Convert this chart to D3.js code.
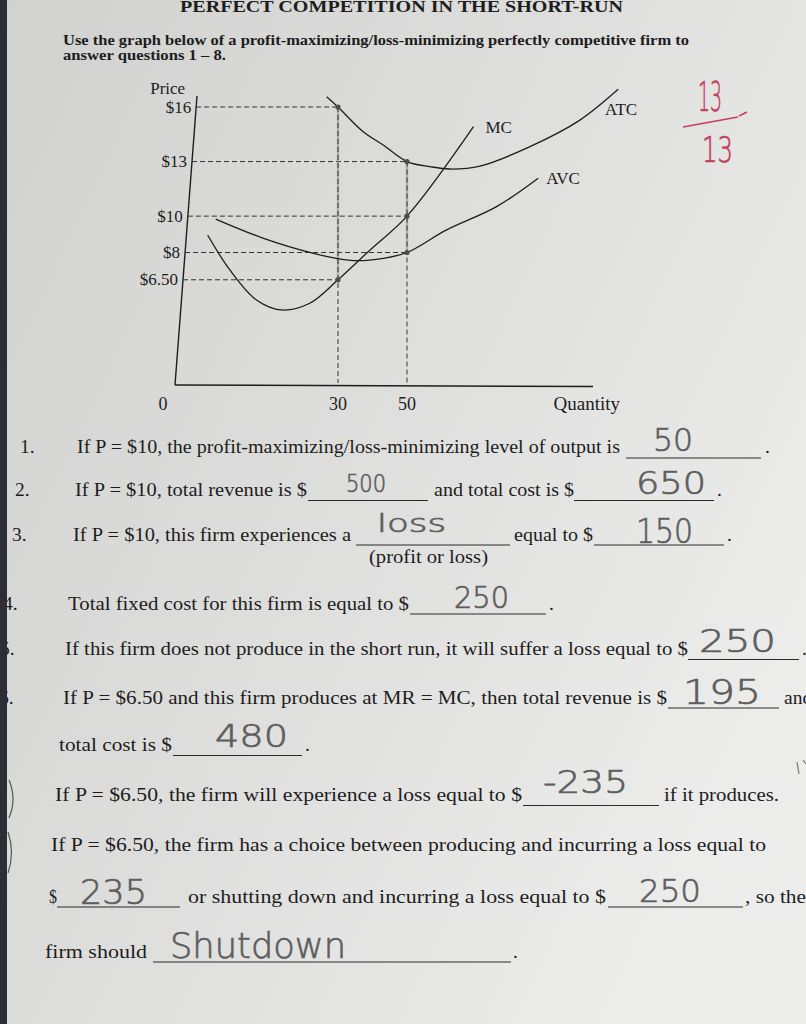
<!DOCTYPE html>
<html>
<head>
<meta charset="utf-8">
<script src="https://cdn.jsdelivr.net/npm/d3@7"></script>
<style>
  body { margin: 0; overflow: hidden; background: #e0e0de; }
  svg { display: block; }
</style>
</head>
<body>
<svg width="806" height="1024"></svg>
<script>
// vertical axis ticks
const priceTicks = [16, 13, 10, 8, 6.5];
const priceLabels = ["$16", "$13", "$10", "$8", "$6.50"];
// horizontal axis ticks
const qtyTicks = [0, 30, 50];
const qtyLabels = ["0", "30", "50"];

// cost curves, (quantity, price)
const mcQ = [6, 10.1, 15, 19.6, 24.8, 30, 39.3, 50, 69.3];
const mcP = [8.96, 7.04, 5.39, 4.84, 5.21, 6.5, 8.14, 10, 14.92];
const atcQ = [27.9, 30, 37.3, 43.1, 50, 56.7, 62.5, 71.2, 85.7, 100.2, 111.3];
const atcP = [16.56, 16, 14.64, 13.91, 13, 12.72, 12.59, 12.75, 13.82, 15.28, 16.97];
const avcQ = [7.5, 16.3, 25.5, 29.7, 35.4, 43.1, 50, 61.5, 76, 88.1];
const avcP = [9.84, 8.78, 7.95, 7.68, 7.55, 7.68, 8, 9.24, 10.52, 12.08];

// dashed guides: price level and the quantity where it meets a curve
const guideP = [16, 13, 10, 8, 6.5];
const guideQ = [30, 50, 50, 50, 30];

var svg = d3.select("svg");

// paper background
var defs = svg.append("defs");
var grad = defs.append("linearGradient").attr("id", "paper")
    .attr("x1", 0).attr("y1", 0).attr("x2", 1).attr("y2", 0.6);
grad.append("stop").attr("offset", 0).attr("stop-color", "#d1d1cf");
grad.append("stop").attr("offset", 0.45).attr("stop-color", "#dcdcda");
grad.append("stop").attr("offset", 1).attr("stop-color", "#ececeb");
svg.append("rect").attr("width", 806).attr("height", 1024).attr("fill", "url(#paper)");

var ink = "#1d1d1d";
var serif = "'Liberation Serif', 'Times New Roman', serif";

// ---------- graph ----------
// the sketch is not to scale, so the quantity axis is piecewise
var x = d3.scaleLinear().domain([0, 30, 50, 104]).range([175, 338, 407, 593]);
var y = d3.scaleLinear().domain([0, 16]).range([398, 107]);
var baseY = 385;
var axisTop = 96;
// the vertical axis leans a little in the photo
var axisX = py => 175 + (baseY - py) * 22 / 289;

var g = svg.append("g");

// axes
g.append("line")
    .attr("x1", axisX(axisTop)).attr("y1", axisTop)
    .attr("x2", axisX(baseY)).attr("y2", baseY)
    .attr("stroke", ink).attr("stroke-width", 1.4);
g.append("line")
    .attr("x1", x(0)).attr("y1", baseY)
    .attr("x2", x(104)).attr("y2", baseY + 1.5)
    .attr("stroke", ink).attr("stroke-width", 1.4);

// horizontal dashed guides
var guides = guideP.map((p, i) => ({p: p, q: guideQ[i]}));
g.append("g").selectAll("line")
    .data(guides)
    .enter()
    .append("line")
    .attr("x1", d => axisX(y(d.p)))
    .attr("x2", d => x(d.q))
    .attr("y1", d => y(d.p))
    .attr("y2", d => y(d.p))
    .attr("stroke", "#333")
    .attr("stroke-width", 1)
    .attr("stroke-dasharray", "5,3");

// vertical dashed guides from the highest guide down to the axis
var vGuides = Array.from(d3.group(guides, d => d.q), ([q, v]) => ({
    q: q,
    top: d3.max(v, d => d.p),
    bottom: d3.min(v, d => d.p)
}));

// pencil retracing over the vertical guides
g.append("g").selectAll("line")
    .data(vGuides)
    .enter()
    .append("line")
    .attr("x1", d => x(d.q)).attr("x2", d => x(d.q))
    .attr("y1", d => y(d.top)).attr("y2", d => y(d.bottom))
    .attr("stroke", "#8a8a8a").attr("stroke-width", 2.4).attr("opacity", 0.55);

g.append("g").selectAll("line")
    .data(vGuides)
    .enter()
    .append("line")
    .attr("x1", d => x(d.q)).attr("x2", d => x(d.q))
    .attr("y1", d => y(d.top)).attr("y2", baseY - 2)
    .attr("stroke", "#333")
    .attr("stroke-width", 1)
    .attr("stroke-dasharray", "5,3");

// curves
var line = d3.line()
    .x(d => x(d[0]))
    .y(d => y(d[1]))
    .curve(d3.curveCatmullRom);

var curves = [
    {name: "MC", pts: d3.zip(mcQ, mcP), dx: 12, dy: 6, anchor: "start"},
    {name: "ATC", pts: d3.zip(atcQ, atcP), dx: 3, dy: 26, anchor: "middle"},
    {name: "AVC", pts: d3.zip(avcQ, avcP), dx: 8, dy: 6, anchor: "start"}
];

g.append("g").selectAll("path")
    .data(curves)
    .enter()
    .append("path")
    .attr("d", d => line(d.pts))
    .attr("fill", "none")
    .attr("stroke", ink)
    .attr("stroke-width", 1.3);

g.append("g").selectAll("text")
    .data(curves)
    .enter()
    .append("text")
    .attr("x", d => x(d.pts[d.pts.length - 1][0]) + d.dx)
    .attr("y", d => y(d.pts[d.pts.length - 1][1]) + d.dy)
    .attr("text-anchor", d => d.anchor)
    .attr("font-family", serif)
    .attr("font-size", 17)
    .attr("fill", ink)
    .text(d => d.name);

// pencil dots where the guides meet the curves
g.append("g").selectAll("circle")
    .data(guides)
    .enter()
    .append("circle")
    .attr("cx", d => x(d.q))
    .attr("cy", d => y(d.p))
    .attr("r", 2.6)
    .attr("fill", "#4d4d4d");

// price tick labels
g.append("g").selectAll("text")
    .data(priceTicks)
    .enter()
    .append("text")
    .attr("x", d => axisX(y(d)) - 5)
    .attr("y", d => y(d) + 5.5)
    .attr("text-anchor", "end")
    .attr("font-family", serif)
    .attr("font-size", 17)
    .attr("fill", ink)
    .text((d, i) => priceLabels[i]);

g.append("text")
    .attr("x", axisX(y(16)) - 11)
    .attr("y", y(16) - 13)
    .attr("text-anchor", "end")
    .attr("font-family", serif)
    .attr("font-size", 17)
    .attr("fill", ink)
    .text("Price");

// quantity tick labels
g.append("g").selectAll("text")
    .data(qtyTicks)
    .enter()
    .append("text")
    .attr("x", d => d === 0 ? x(d) - 12 : x(d))
    .attr("y", baseY + 25)
    .attr("text-anchor", "middle")
    .attr("font-family", serif)
    .attr("font-size", 18)
    .attr("fill", ink)
    .text((d, i) => qtyLabels[i]);

g.append("text")
    .attr("x", x(104) + 27)
    .attr("y", baseY + 25)
    .attr("text-anchor", "end")
    .attr("font-family", serif)
    .attr("font-size", 19)
    .attr("fill", ink)
    .text("Quantity");

// ---------- worksheet text ----------
function put(t, xx, yy, w, opts) {
    opts = opts || {};
    var el = svg.append("text")
        .attr("x", xx).attr("y", yy)
        .attr("font-family", serif)
        .attr("font-size", opts.size || 19.5)
        .attr("font-weight", opts.bold ? "bold" : "normal")
        .attr("fill", ink)
        .text(t);
    if (w) el.attr("textLength", w).attr("lengthAdjust", "spacingAndGlyphs");
}

function blank(x1, x2, yy) {
    svg.append("line")
        .attr("x1", x1).attr("x2", x2).attr("y1", yy).attr("y2", yy)
        .attr("stroke", "#2a2a2a").attr("stroke-width", 1.2);
}

function hand(t, xx, yy, w, size, color) {
    svg.append("text")
        .attr("x", xx).attr("y", yy)
        .attr("font-family", "'DejaVu Sans', sans-serif")
        .attr("font-weight", 200)
        .attr("font-size", size)
        .attr("fill", color || "#5e5e5e")
        .attr("stroke", color || "#5e5e5e")
        .attr("stroke-width", 0.7)
        .attr("textLength", w).attr("lengthAdjust", "spacingAndGlyphs")
        .text(t);
}

put("PERFECT COMPETITION IN THE SHORT-RUN", 180, 11.5, 443, {bold: true, size: 16});
put("Use the graph below of a profit-maximizing/loss-minimizing perfectly competitive firm to", 63, 45, 626, {bold: true, size: 14.5});
put("answer questions 1 \u2013 8.", 63, 60, 163, {bold: true, size: 14.5});

// 1
put("1.", 20, 452.5);
put("If P = $10, the profit-maximizing/loss-minimizing level of output is", 77, 452.5, 543);
blank(626, 761, 458);
put(".", 765, 452.5);
hand("50", 653, 451, 40, 32);

// 2
put("2.", 15, 496);
put("If P = $10, total revenue is $", 75, 496, 232);
blank(308, 428, 500.5);
put("and total cost is $", 434, 496, 140);
blank(574, 714, 500.5);
put(".", 717, 496);
hand("500", 346, 492, 40, 25);
hand("650", 636, 494, 70, 32);

// 3
put("3.", 12, 540.5);
put("If P = $10, this firm experiences a", 73, 540.5, 278);
blank(356, 510, 545);
put("equal to $", 514, 540.5, 79);
blank(594, 724, 545);
put(".", 727, 540.5);
put("(profit or loss)", 369, 563, 119);
hand("loss", 377, 532, 69, 24);
hand("150", 636, 543, 57, 34);

// 4
put("4.", 3, 609.5);
put("Total fixed cost for this firm is equal to $", 68, 609.5, 341);
blank(410, 546, 614);
put(".", 549, 609.5);
hand("250", 454, 608, 55, 30);

// 5
put("5.", 0, 655);
put("If this firm does not produce in the short run, it will suffer a loss equal to $", 65, 655, 623);
blank(688, 799, 659.5);
put(".", 802, 655);
hand("250", 699, 652, 77, 32);

// 6
put("6.", -1, 703.5);
put("If P = $6.50 and this firm produces at MR = MC, then total revenue is $", 63, 703.5, 604);
blank(668, 779, 708);
put("and", 784, 703.5);
hand("195", 683, 704, 78, 34);
put("total cost is $", 59, 751, 113);
blank(173, 302, 755.5);
put(".", 305, 751);
hand("480", 215, 747, 73, 32);

// 7
put("If P = $6.50, the firm will experience a loss equal to $", 55, 801, 467);
blank(523, 659, 805.5);
put("if it produces.", 664, 801, 115);
hand("-235", 543, 793, 85, 32);

// 8
put("If P = $6.50, the firm has a choice between producing and incurring a loss equal to", 51, 851, 715);
put("$", 49, 902.5, 8);
blank(57, 180, 907);
put("or shutting down and incurring a loss equal to $", 188, 902.5, 418);
blank(608, 743, 907);
put(", so the", 745, 902.5, 61);
hand("235", 80, 904, 67, 34);
hand("250", 639, 902, 62, 32);
put("firm should", 45, 957.5, 102);
blank(153, 511, 962);
put(".", 513, 957.5);
hand("Shutdown", 170, 958, 176, 36);

// red marks at top right
var red = "#c4405e";
hand("13", 698, 111, 24, 40, red);
hand("13", 702, 162, 31, 36, red);
svg.append("path")
    .attr("d", "M683,127 L738,117 M739,116 L747,112")
    .attr("fill", "none").attr("stroke", red).attr("stroke-width", 1.6);

// stray pencil stroke at right edge
svg.append("path")
    .attr("d", "M797,762 L799,774 M803,760 L806,764")
    .attr("fill", "none").attr("stroke", "#777").attr("stroke-width", 1.2);

// page edge arcs at left
svg.append("path")
    .attr("d", "M9,780 Q17,799 9,818 M8,832 Q15,852 8,873")
    .attr("fill", "none").attr("stroke", "#555").attr("stroke-width", 1.2);

// dark strip along the left edge of the photo
svg.append("rect").attr("x", 0).attr("y", 0).attr("width", 7).attr("height", 1024).attr("fill", "#2b2e34");
</script>
</body>
</html>
